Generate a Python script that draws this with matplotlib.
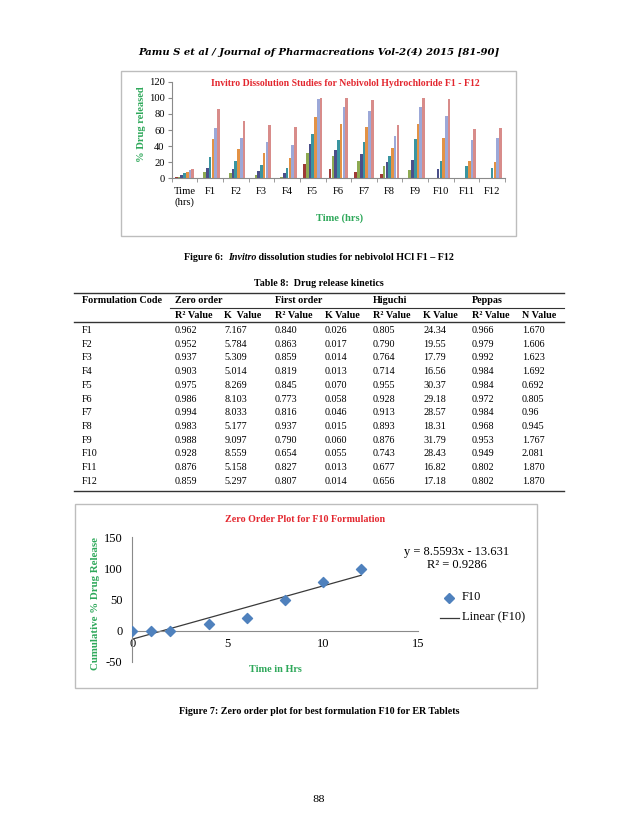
import numpy as np
import matplotlib
matplotlib.use("Agg")
import matplotlib.pyplot as plt
from matplotlib.lines import Line2D
from matplotlib.patches import Rectangle

# ---------------- data ----------------
categories = ['Time\n(hrs)', 'F1', 'F2', 'F3', 'F4', 'F5', 'F6', 'F7', 'F8', 'F9', 'F10', 'F11', 'F12']
series_hours = ['1', '2', '4', '6', '8', '10', '12']
h1 = [1, 0, 0, 0, 0, 18, 12, 8, 5, 0, 0, 0, 0]
h2 = [2, 8, 6, 4, 2, 31, 28, 21, 15, 10, 0, 0, 0]
h4 = [4, 13, 11, 9, 7, 43, 35, 30, 20, 23, 11, 0, 0]
h6 = [6, 26, 21, 16, 13, 55, 48, 45, 28, 49, 21, 15, 13]
h8 = [8, 49, 36, 32, 25, 76, 67, 64, 38, 68, 50, 21, 20]
h10 = [10, 63, 50, 45, 41, 98, 89, 83, 52, 89, 78, 48, 50]
h12 = [12, 86, 71, 66, 64, 100, 100, 97, 66, 100, 99, 61, 63]
series_values = [h1, h2, h4, h6, h8, h10, h12]
series_colors = ['#9E3A36', '#8EAA52', '#4B4F8A', '#3A95A0', '#E39245', '#9CA8D8', '#D88C8A']

table_columns = ['Formulation Code', 'Zero order', 'First order', 'Higuchi', 'Peppas']
table_subcolumns = ['R² Value', 'K  Value', 'R² Value', 'K Value', 'R² Value', 'K Value', 'R² Value', 'N Value']
formulations = ['F1', 'F2', 'F3', 'F4', 'F5', 'F6', 'F7', 'F8', 'F9', 'F10', 'F11', 'F12']
zero_r2 = ['0.962', '0.952', '0.937', '0.903', '0.975', '0.986', '0.994', '0.983', '0.988', '0.928', '0.876', '0.859']
zero_k = ['7.167', '5.784', '5.309', '5.014', '8.269', '8.103', '8.033', '5.177', '9.097', '8.559', '5.158', '5.297']
first_r2 = ['0.840', '0.863', '0.859', '0.819', '0.845', '0.773', '0.816', '0.937', '0.790', '0.654', '0.827', '0.807']
first_k = ['0.026', '0.017', '0.014', '0.013', '0.070', '0.058', '0.046', '0.015', '0.060', '0.055', '0.013', '0.014']
higuchi_r2 = ['0.805', '0.790', '0.764', '0.714', '0.955', '0.928', '0.913', '0.893', '0.876', '0.743', '0.677', '0.656']
higuchi_k = ['24.34', '19.55', '17.79', '16.56', '30.37', '29.18', '28.57', '18.31', '31.79', '28.43', '16.82', '17.18']
peppas_r2 = ['0.966', '0.979', '0.992', '0.984', '0.984', '0.972', '0.984', '0.968', '0.953', '0.949', '0.802', '0.802']
peppas_n = ['1.670', '1.606', '1.623', '1.692', '0.692', '0.805', '0.96', '0.945', '1.767', '2.081', '1.870', '1.870']

f10_time = [0, 1, 2, 4, 6, 8, 10, 12]
f10_release = [0, 0, 0, 11, 21, 50, 78, 99]

# ---------------- layout helpers ----------------
W, H = 638, 826
DPI = 100
plt.rcParams['font.family'] = ['Liberation Serif', 'DejaVu Serif']
plt.rcParams['axes.unicode_minus'] = False
fig = plt.figure(figsize=(W / DPI, H / DPI), dpi=DPI)
fig.patch.set_facecolor('white')
renderer = fig.canvas.get_renderer()

def fx(px):
    return px / W

def fy(py):
    return 1 - py / H

def ftext(x, y, s, **kw):
    return fig.text(fx(x), fy(y), s, **kw)

def hline(x0, x1, y, lw=1.0, color='#333333'):
    fig.add_artist(Line2D([fx(x0), fx(x1)], [fy(y), fy(y)], lw=lw, color=color,
                          transform=fig.transFigure))

def box(x0, y0, x1, y1):
    fig.add_artist(Rectangle((fx(x0), fy(y1)), fx(x1) - fx(x0), fy(y0) - fy(y1),
                             transform=fig.transFigure, fill=False,
                             edgecolor='#BDBDBD', lw=1.0))

def rich_centered(xc, y, parts, **kw):
    """parts: list of (text, style) drawn side by side, centred on xc."""
    objs = [ftext(0, y, s, ha='left', va='center', fontstyle=st, **kw) for s, st in parts]
    widths = [o.get_window_extent(renderer=renderer).width for o in objs]
    x = xc - sum(widths) / 2
    for o, w in zip(objs, widths):
        o.set_x(fx(x))
        x += w

GREEN = '#2EA85A'
RED = '#E3262E'
AXC = '#8A8A8A'

# ---------------- header ----------------
ftext(319, 52, 'Pamu S et al / Journal of Pharmacreations Vol-2(4) 2015 [81-90]',
      ha='center', va='center', fontsize=7.2, fontstyle='italic', fontweight='bold',
      family=['DejaVu Serif'])

# ---------------- top bar chart ----------------
box(121, 71, 516, 236)
ax1 = fig.add_axes([fx(171.7), fy(178.3), fx(505) - fx(171.7), fy(81.7) - fy(178.3)])
n = len(series_values)
grp = 0.75
bw = grp / n
xc = np.arange(len(categories))
for i, (vals, col) in enumerate(zip(series_values, series_colors)):
    ax1.bar(xc + (i - (n - 1) / 2) * bw, vals, width=bw * 0.95, color=col,
            edgecolor='none', label=series_hours[i])
ax1.set_xlim(-0.5, len(categories) - 0.5)
ax1.set_ylim(0, 120)
ax1.set_yticks(np.arange(0, 121, 20))
ax1.set_xticks(xc)
ax1.set_xticklabels(categories, fontsize=7.6, va='top', linespacing=1.25)
ax1.set_xticks(np.arange(-0.5, len(categories), 1), minor=True)
ax1.tick_params(axis='x', which='major', length=0, pad=6)
ax1.tick_params(axis='x', which='minor', length=3, color=AXC, direction='out')
ax1.tick_params(axis='y', length=3, color=AXC, labelsize=7.6, pad=2)
for s in ['top', 'right']:
    ax1.spines[s].set_visible(False)
for s in ['left', 'bottom']:
    ax1.spines[s].set_color(AXC)
    ax1.spines[s].set_linewidth(0.8)
ax1.set_facecolor('none')
ftext(345, 84, 'Invitro Dissolution Studies for Nebivolol Hydrochloride F1 - F12',
      ha='center', va='center', fontsize=7.0, fontweight='bold', color=RED)
ftext(141, 124, '% Drug released', ha='center', va='center', rotation=90,
      fontsize=7.6, fontweight='bold', color=GREEN)
ftext(340, 218, 'Time (hrs)', ha='center', va='center', fontsize=7.6,
      fontweight='bold', color=GREEN)

# ---------------- caption + table ----------------
rich_centered(319, 257, [('Figure 6:  ', 'normal'), ('Invitro', 'italic'),
                         (' dissolution studies for nebivolol HCl F1 \u2013 F12', 'normal')],
              fontsize=7.2, fontweight='bold')
ftext(319, 284, 'Table 8:  Drug release kinetics', ha='center', va='center',
      fontsize=7.2, fontweight='bold')

tx0, tx1 = 74, 564
hline(tx0, tx1, 292.5, lw=1.0)
col_x = [81.5, 175, 224.5, 275, 325, 373, 423, 472, 522]
head1_x = [81.5, 175, 275, 373, 472]
for x, s in zip(head1_x, table_columns):
    ftext(x, 300.5, s, ha='left', va='center', fontsize=7.3, fontweight='bold')
hline(170, tx1, 307.6, lw=0.8)
for x, s in zip(col_x[1:], table_subcolumns):
    ftext(x, 315, s, ha='left', va='center', fontsize=7.3, fontweight='bold')
hline(tx0, tx1, 322.3, lw=1.0)

row_y0, row_dy = 330.5, 13.7
cols = [formulations, zero_r2, zero_k, first_r2, first_k, higuchi_r2, higuchi_k, peppas_r2, peppas_n]
for r in range(len(formulations)):
    y = row_y0 + r * row_dy
    for x, c in zip(col_x, cols):
        ftext(x, y, c[r], ha='left', va='center', fontsize=7.3)
hline(tx0, tx1, 490.5, lw=1.0)

# ---------------- bottom scatter chart ----------------
box(75, 504, 537, 688)
ax2 = fig.add_axes([fx(132.3), fy(661.8), fx(418.3) - fx(132.3), fy(537.4) - fy(661.8)])
ax2.scatter(f10_time, f10_release, marker='D', s=26, color='#4F81BD', zorder=3)
m, b = np.polyfit(f10_time, f10_release, 1)
xt = np.array([min(f10_time), max(f10_time)])
ax2.plot(xt, m * xt + b, color='#3A3A3A', lw=0.9, zorder=2)
pred = m * np.array(f10_time) + b
ss_res = np.sum((np.array(f10_release) - pred) ** 2)
ss_tot = np.sum((np.array(f10_release) - np.mean(f10_release)) ** 2)
r2 = 1 - ss_res / ss_tot
ax2.set_xlim(0, 15)
ax2.set_ylim(-50, 150)
ax2.set_xticks([0, 5, 10, 15])
ax2.set_yticks([-50, 0, 50, 100, 150])
ax2.spines['bottom'].set_position(('data', 0))
for s in ['top', 'right']:
    ax2.spines[s].set_visible(False)
for s in ['left', 'bottom']:
    ax2.spines[s].set_color(AXC)
    ax2.spines[s].set_linewidth(0.8)
ax2.tick_params(axis='both', length=0, labelsize=9)
ax2.tick_params(axis='x', pad=5)
ax2.tick_params(axis='y', pad=7)
ax2.set_facecolor('none')

ftext(305, 519, 'Zero Order Plot for F10 Formulation', ha='center', va='center',
      fontsize=7.2, fontweight='bold', color=RED)
ftext(95, 603, 'Cumulative % Drug Release', ha='center', va='center', rotation=90,
      fontsize=7.8, fontweight='bold', color=GREEN)
ftext(275, 669, 'Time in Hrs', ha='center', va='center', fontsize=7.4,
      fontweight='bold', color=GREEN)
sign = '-' if b < 0 else '+'
ftext(457, 551.5, f'y = {m:.4f}x {sign} {abs(b):.3f}', ha='center', va='center', fontsize=9)
ftext(457, 565.5, f'R\u00b2 = {r2:.4f}', ha='center', va='center', fontsize=9)

# legend
fig.add_artist(Line2D([fx(449)], [fy(597.5)], marker='D', markersize=4.8, color='#4F81BD',
                      lw=0, transform=fig.transFigure))
ftext(462, 597.5, 'F10', ha='left', va='center', fontsize=9)
fig.add_artist(Line2D([fx(440), fx(459)], [fy(617.5), fy(617.5)], color='#3A3A3A', lw=0.9,
                      transform=fig.transFigure))
ftext(462, 617.5, 'Linear (F10)', ha='left', va='center', fontsize=9)

ftext(319, 711, 'Figure 7: Zero order plot for best formulation F10 for ER Tablets',
      ha='center', va='center', fontsize=7.2, fontweight='bold')
ftext(319, 800, '88', ha='center', va='center', fontsize=7.2, family=['DejaVu Serif'])

fig.savefig('out.png', dpi=DPI, facecolor='white')
